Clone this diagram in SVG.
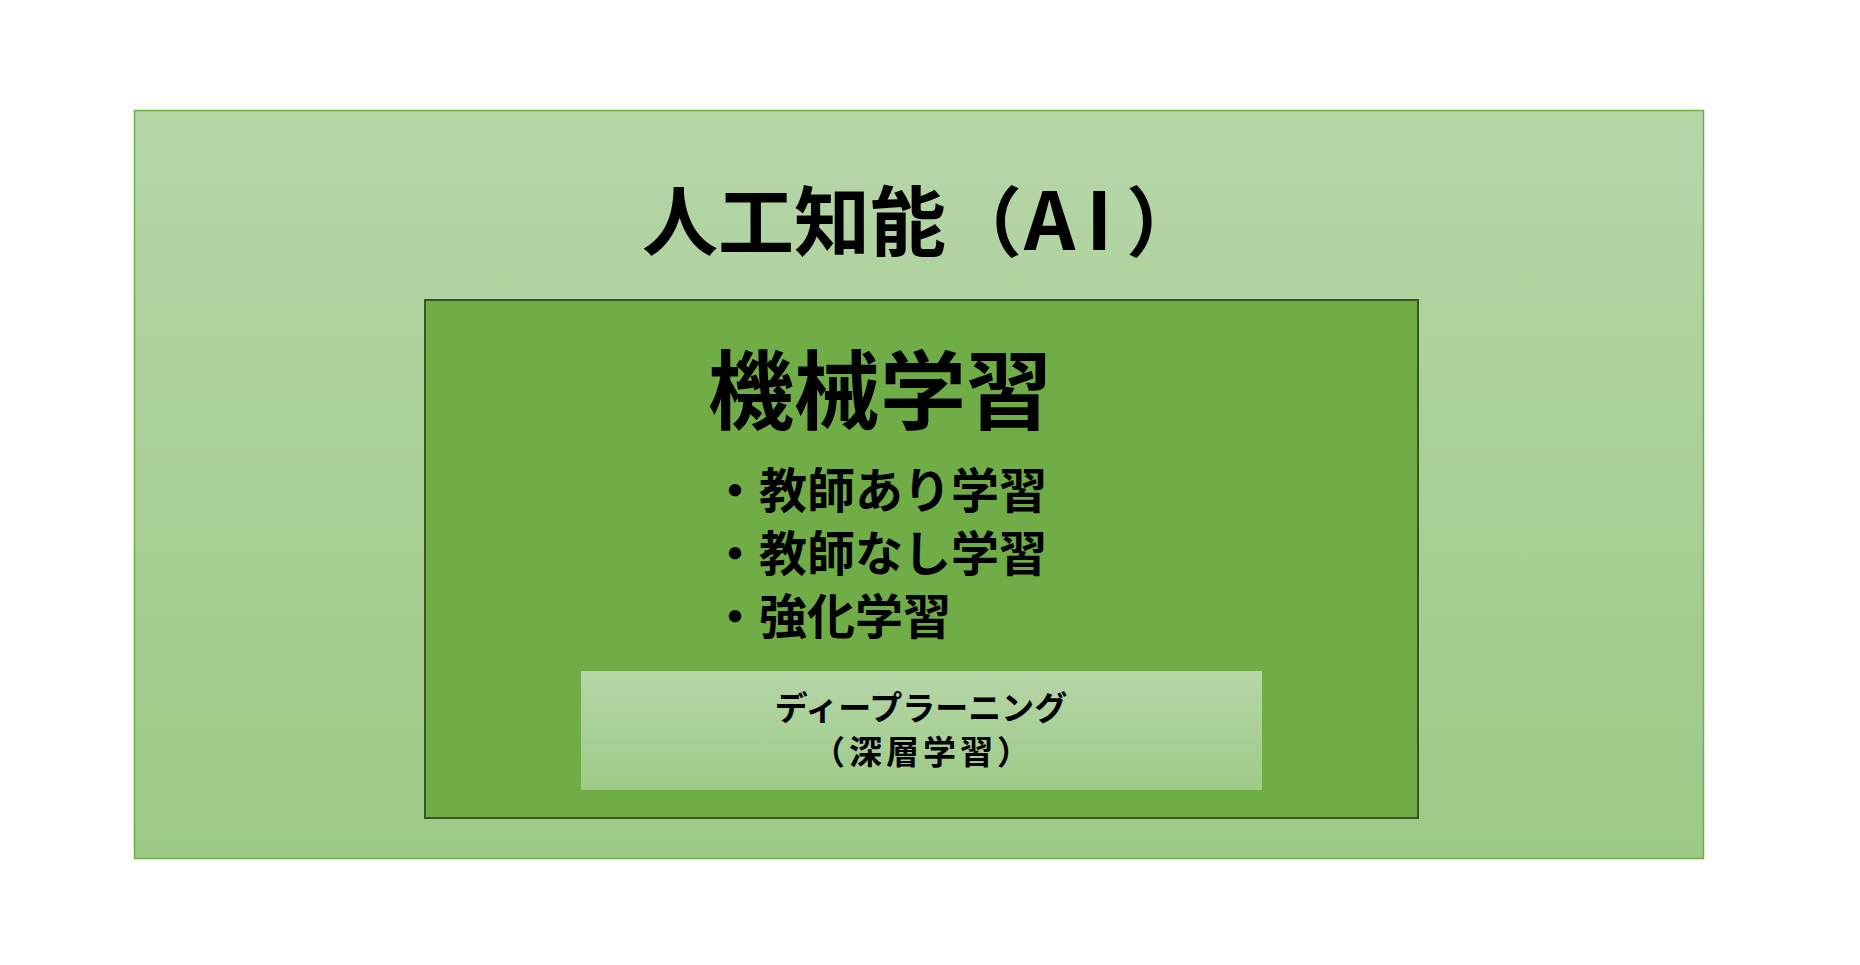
<svg xmlns="http://www.w3.org/2000/svg" width="1860" height="965" viewBox="0 0 1860 965">
<defs>
<linearGradient id="gOuter" x1="0" y1="0" x2="0" y2="1">
<stop offset="0" stop-color="#b6d6a8"/>
<stop offset="1" stop-color="#9cca86"/>
</linearGradient>
<linearGradient id="gDeep" x1="0" y1="0" x2="0" y2="1">
<stop offset="0" stop-color="#b6d6a8"/>
<stop offset="1" stop-color="#9ecb88"/>
</linearGradient>
</defs>
<style>
.t{font-family:"Noto Sans CJK JP","Noto Sans",sans-serif;font-weight:bold;fill:#000}
</style>
<rect width="1860" height="965" fill="#ffffff"/>
<g id="ai">
<rect x="134.5" y="110.5" width="1569" height="748" fill="url(#gOuter)" stroke="#70ad47" stroke-width="1.5"/>
<text class="t" x="642" y="250" font-size="76">人工知能（<tspan x="1024" font-size="80">A</tspan><tspan x="1086" font-size="80">I</tspan><tspan x="1126">）</tspan></text>
</g>
<g id="ml">
<rect x="425" y="300" width="993" height="518" fill="#70ad47" stroke="#375623" stroke-width="2"/>
<text class="t" x="708" y="423" font-size="86">機械学習</text>
<text class="t" font-size="48"><tspan x="711" y="508">・</tspan><tspan x="759" y="508">教師あり学習</tspan><tspan x="711" y="571">・</tspan><tspan x="759" y="571">教師なし学習</tspan><tspan x="711" y="634">・</tspan><tspan x="759" y="634">強化学習</tspan></text>
</g>
<g id="dl">
<rect x="581" y="671" width="681" height="119" fill="url(#gDeep)"/>
<text class="t" x="921" y="720" font-size="33" text-anchor="middle">ディープラーニング</text>
<text class="t" x="923" y="764" font-size="33" text-anchor="middle" letter-spacing="4">（深層学習）</text>
</g>
<g id="connectors"/>
</svg>
